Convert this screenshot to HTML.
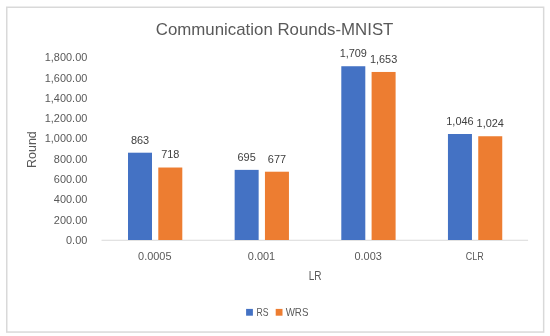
<!DOCTYPE html>
<html><head><meta charset="utf-8"><title>Communication Rounds-MNIST</title>
<style>
html,body{margin:0;padding:0;background:#fff;}
body{width:550px;height:336px;overflow:hidden;}
svg{display:block;font-family:'Liberation Sans', sans-serif;}
</style></head><body>
<svg width="550" height="336" viewBox="0 0 550 336">
<rect x="6.75" y="7.25" width="536.9" height="324.8" fill="#fff" stroke="#D9D9D9" stroke-width="1.5"/>
<text x="274.60" y="35.00" font-size="17.41" text-anchor="middle" fill="#595959" textLength="237.57" lengthAdjust="spacingAndGlyphs">Communication Rounds-MNIST</text>
<text x="87.30" y="243.90" font-size="11.19" text-anchor="end" fill="#595959" textLength="21.28" lengthAdjust="spacingAndGlyphs">0.00</text>
<text x="87.30" y="223.60" font-size="11.19" text-anchor="end" fill="#595959" textLength="33.44" lengthAdjust="spacingAndGlyphs">200.00</text>
<text x="87.30" y="203.30" font-size="11.19" text-anchor="end" fill="#595959" textLength="33.44" lengthAdjust="spacingAndGlyphs">400.00</text>
<text x="87.30" y="183.00" font-size="11.19" text-anchor="end" fill="#595959" textLength="33.44" lengthAdjust="spacingAndGlyphs">600.00</text>
<text x="87.30" y="162.70" font-size="11.19" text-anchor="end" fill="#595959" textLength="33.44" lengthAdjust="spacingAndGlyphs">800.00</text>
<text x="87.30" y="142.40" font-size="11.19" text-anchor="end" fill="#595959" textLength="42.52" lengthAdjust="spacingAndGlyphs">1,000.00</text>
<text x="87.30" y="122.10" font-size="11.19" text-anchor="end" fill="#595959" textLength="42.52" lengthAdjust="spacingAndGlyphs">1,200.00</text>
<text x="87.30" y="101.80" font-size="11.19" text-anchor="end" fill="#595959" textLength="42.52" lengthAdjust="spacingAndGlyphs">1,400.00</text>
<text x="87.30" y="81.50" font-size="11.19" text-anchor="end" fill="#595959" textLength="42.52" lengthAdjust="spacingAndGlyphs">1,600.00</text>
<text x="87.30" y="61.20" font-size="11.19" text-anchor="end" fill="#595959" textLength="42.52" lengthAdjust="spacingAndGlyphs">1,800.00</text>
<line x1="101.5" y1="240.25" x2="528.1" y2="240.25" stroke="#D9D9D9" stroke-width="1"/>
<rect x="128.00" y="152.70" width="24" height="87.30" fill="#4472C4"/>
<text x="140.00" y="143.65" font-size="11.19" text-anchor="middle" fill="#404040" textLength="18.25" lengthAdjust="spacingAndGlyphs">863</text>
<rect x="158.30" y="167.52" width="24" height="72.48" fill="#ED7D31"/>
<text x="170.30" y="158.47" font-size="11.19" text-anchor="middle" fill="#404040" textLength="18.25" lengthAdjust="spacingAndGlyphs">718</text>
<text x="154.82" y="259.80" font-size="11.19" text-anchor="middle" fill="#595959" textLength="33.44" lengthAdjust="spacingAndGlyphs">0.0005</text>
<rect x="234.65" y="169.87" width="24" height="70.13" fill="#4472C4"/>
<text x="246.65" y="160.82" font-size="11.19" text-anchor="middle" fill="#404040" textLength="18.25" lengthAdjust="spacingAndGlyphs">695</text>
<rect x="264.95" y="171.71" width="24" height="68.29" fill="#ED7D31"/>
<text x="276.95" y="162.66" font-size="11.19" text-anchor="middle" fill="#404040" textLength="18.25" lengthAdjust="spacingAndGlyphs">677</text>
<text x="261.48" y="259.80" font-size="11.19" text-anchor="middle" fill="#595959" textLength="27.36" lengthAdjust="spacingAndGlyphs">0.001</text>
<rect x="341.30" y="66.24" width="24" height="173.76" fill="#4472C4"/>
<text x="353.30" y="57.19" font-size="11.19" text-anchor="middle" fill="#404040" textLength="27.32" lengthAdjust="spacingAndGlyphs">1,709</text>
<rect x="371.60" y="71.96" width="24" height="168.04" fill="#ED7D31"/>
<text x="383.60" y="62.91" font-size="11.19" text-anchor="middle" fill="#404040" textLength="27.32" lengthAdjust="spacingAndGlyphs">1,653</text>
<text x="368.12" y="259.80" font-size="11.19" text-anchor="middle" fill="#595959" textLength="27.36" lengthAdjust="spacingAndGlyphs">0.003</text>
<rect x="447.95" y="134.00" width="24" height="106.00" fill="#4472C4"/>
<text x="459.95" y="124.95" font-size="11.19" text-anchor="middle" fill="#404040" textLength="27.32" lengthAdjust="spacingAndGlyphs">1,046</text>
<rect x="478.25" y="136.25" width="24" height="103.75" fill="#ED7D31"/>
<text x="490.25" y="127.20" font-size="11.19" text-anchor="middle" fill="#404040" textLength="27.32" lengthAdjust="spacingAndGlyphs">1,024</text>
<text x="474.78" y="259.80" font-size="11.19" text-anchor="middle" fill="#595959" textLength="17.96" lengthAdjust="spacingAndGlyphs">CLR</text>
<text x="0.00" y="0.00" font-size="12.43" text-anchor="middle" fill="#595959" textLength="36.80" lengthAdjust="spacingAndGlyphs" transform="translate(36.3 149.6) rotate(-90)">Round</text>
<text x="315.20" y="279.80" font-size="12.43" text-anchor="middle" fill="#595959" textLength="12.84" lengthAdjust="spacingAndGlyphs">LR</text>
<rect x="246.1" y="308.9" width="6.8" height="6.8" fill="#4472C4"/>
<text x="256.60" y="315.50" font-size="11.19" text-anchor="start" fill="#595959" textLength="12.03" lengthAdjust="spacingAndGlyphs">RS</text>
<rect x="275.7" y="308.9" width="6.8" height="6.8" fill="#ED7D31"/>
<text x="285.70" y="315.50" font-size="11.19" text-anchor="start" fill="#595959" textLength="22.71" lengthAdjust="spacingAndGlyphs">WRS</text>
</svg>
</body></html>
